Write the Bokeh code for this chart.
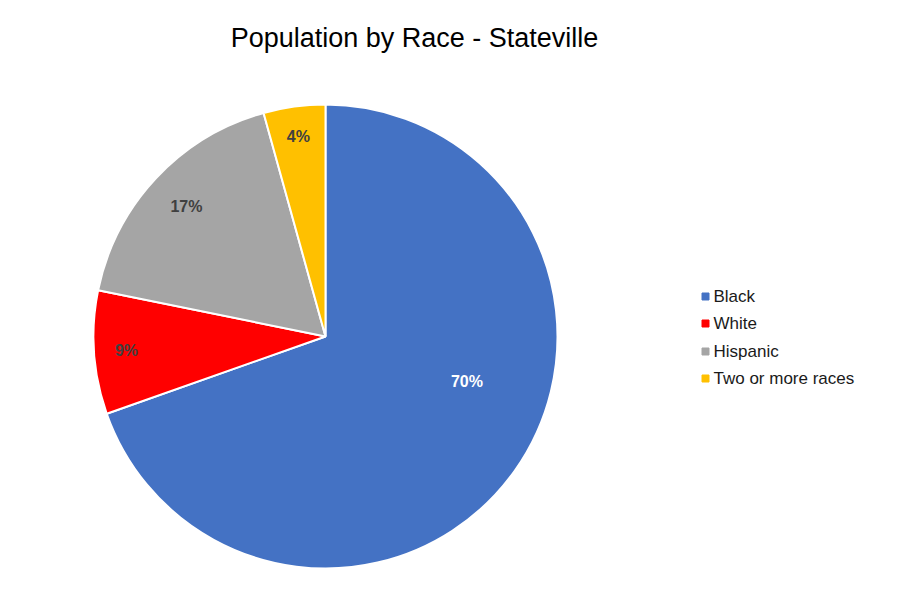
import math

from bokeh.core.properties import value
from bokeh.embed import file_html
from bokeh.models import ColumnDataSource, Range1d
from bokeh.plotting import figure
from bokeh.resources import INLINE

title = 'Population by Race - Stateville'
races = ['Black', 'White', 'Hispanic', 'Two or more races']
shares = [69.6, 8.6, 17.5, 4.3]
labels = ['70%', '9%', '17%', '4%']
colors = ['#4472c4', '#ff0000', '#a5a5a5', '#ffc000']
label_colors = ['white', '#404040', '#404040', '#404040']

W, H = 906, 587
cx, cy, radius = 325, H - 336, 232
label_r = [0.64, 0.86, 0.82, 0.87]
label_shift = [17.6, 0, 0, 0]  # degrees, excel "best fit" nudge

total = sum(shares)
starts, ends, lx, ly = [], [], [], []
a = math.pi / 2
for s, r, sh in zip(shares, label_r, label_shift):
    span = 2 * math.pi * s / total
    starts.append(a)
    ends.append(a - span)
    mid = a - span / 2 + math.radians(sh)
    lx.append(cx + r * radius * math.cos(mid))
    ly.append(cy + r * radius * math.sin(mid))
    a -= span

src = ColumnDataSource(dict(race=races, start=starts, end=ends, color=colors,
                            lx=lx, ly=ly, label=labels, lcolor=label_colors))

p = figure(width=W, height=H, output_backend='svg', toolbar_location=None,
           x_range=Range1d(0, W), y_range=Range1d(0, H), min_border=0)
p.axis.visible = False
p.grid.visible = False
p.outline_line_color = None

p.wedge(x=cx, y=cy, radius=radius, start_angle='start', end_angle='end',
        direction='clock', fill_color='color', line_color='white',
        line_width=2, source=src)

p.text(x='lx', y='ly', text='label', text_color='lcolor',
       text_font=value('Liberation Sans'), text_font_size='16px',
       text_font_style='bold', text_align='center', text_baseline='middle',
       source=src)

p.text(x=[414], y=[H - 37], text=[title], text_font=value('Liberation Sans'),
       text_font_size='27px', text_color='black', text_align='center',
       text_baseline='middle')

leg_y = [H - 296, H - 323, H - 351, H - 378]
p.scatter(x=[705] * 4, y=leg_y, marker='square', size=7, color=colors)
p.text(x=[713] * 4, y=leg_y, text=races, text_font=value('Liberation Sans'),
       text_font_size='17px', text_color='#1a1a1a', text_baseline='middle')

open('out.html', 'w').write(file_html(p, INLINE))
